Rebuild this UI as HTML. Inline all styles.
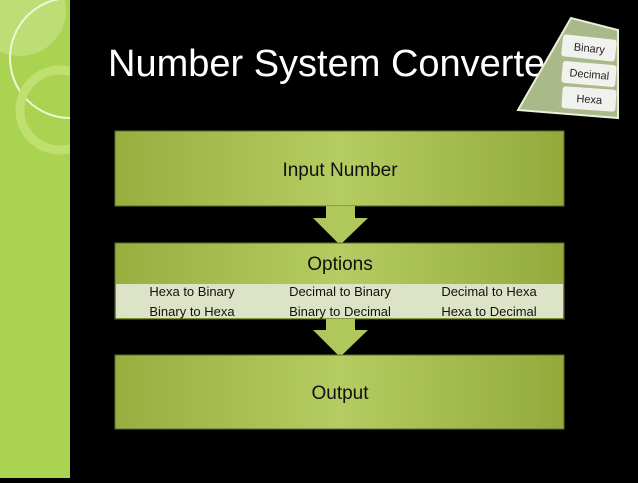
<!DOCTYPE html>
<html><head><style>
html,body{margin:0;padding:0;background:#000;}
body{width:638px;height:478px;overflow:hidden;position:relative;font-family:"Liberation Sans",sans-serif;}
</style></head><body>
<svg width="638" height="478" viewBox="0 0 638 478" xmlns="http://www.w3.org/2000/svg" font-family="Liberation Sans, sans-serif">
<defs>
<linearGradient id="g" x1="0" x2="1" y1="0" y2="0">
<stop offset="0" stop-color="#98ae3f"/>
<stop offset="0.5" stop-color="#b5cc62"/>
<stop offset="1" stop-color="#93aa3b"/>
</linearGradient>
<clipPath id="lc"><rect x="0" y="0" width="70" height="478"/></clipPath>
</defs>
<rect x="0" y="0" width="638" height="478" fill="#000"/>
<rect x="0" y="0" width="70" height="478" fill="#a9d350"/>
<g clip-path="url(#lc)">
<circle cx="20" cy="10" r="46" fill="#c4e383" opacity="0.7"/>
<circle cx="70" cy="58" r="60" fill="none" stroke="#eef7d8" stroke-width="2"/>
<circle cx="60" cy="110" r="40" fill="none" stroke="#bfe06e" stroke-width="9"/>
</g>
<text x="108" y="76" font-size="38" fill="#fff">Number System Converter</text>
<!-- pyramid -->
<polygon points="571,18 518,110 618,118 618,30" fill="#a9b98a" stroke="#e9efd9" stroke-width="2"/>
<g font-size="11" fill="#222" text-anchor="middle">
<rect x="562" y="37" width="54" height="22" rx="3" fill="#f1f1ee" transform="rotate(6 589 48)"/>
<text x="589" y="52" transform="rotate(6 589 52)">Binary</text>
<rect x="562" y="63" width="54" height="22" rx="3" fill="#f1f1ee" transform="rotate(5 589 74)"/>
<text x="589" y="78" transform="rotate(5 589 78)">Decimal</text>
<rect x="562" y="88" width="54" height="22" rx="3" fill="#f1f1ee" transform="rotate(4 589 99)"/>
<text x="589" y="103" transform="rotate(4 589 103)">Hexa</text>
</g>
<!-- boxes -->
<rect x="115" y="131" width="449" height="75" fill="url(#g)" stroke="#5d6b2a"/>
<text x="340" y="176" font-size="19" fill="#111" text-anchor="middle">Input Number</text>
<polygon points="326,206 355,206 355,218 368,218 340,245 313,218 326,218" fill="#b0c85b"/>
<rect x="115" y="243" width="449" height="76" fill="url(#g)" stroke="#5d6b2a"/>
<rect x="116" y="284" width="447" height="34" fill="#dde3c6"/>
<text x="340" y="270" font-size="19" fill="#111" text-anchor="middle">Options</text>
<g font-size="13" fill="#111" text-anchor="middle">
<text x="192" y="296">Hexa to Binary</text>
<text x="340" y="296">Decimal to Binary</text>
<text x="489" y="296">Decimal to Hexa</text>
<text x="192" y="316">Binary to Hexa</text>
<text x="340" y="316">Binary to Decimal</text>
<text x="489" y="316">Hexa to Decimal</text>
</g>
<polygon points="326,319 355,319 355,330 368,330 340,357 313,330 326,330" fill="#b0c85b"/>
<rect x="115" y="355" width="449" height="74" fill="url(#g)" stroke="#5d6b2a"/>
<polygon points="322,355 358,355 340,372" fill="#b0c85b" opacity="0"/>
<text x="340" y="399" font-size="19" fill="#111" text-anchor="middle">Output</text>
</svg>
</body></html>
